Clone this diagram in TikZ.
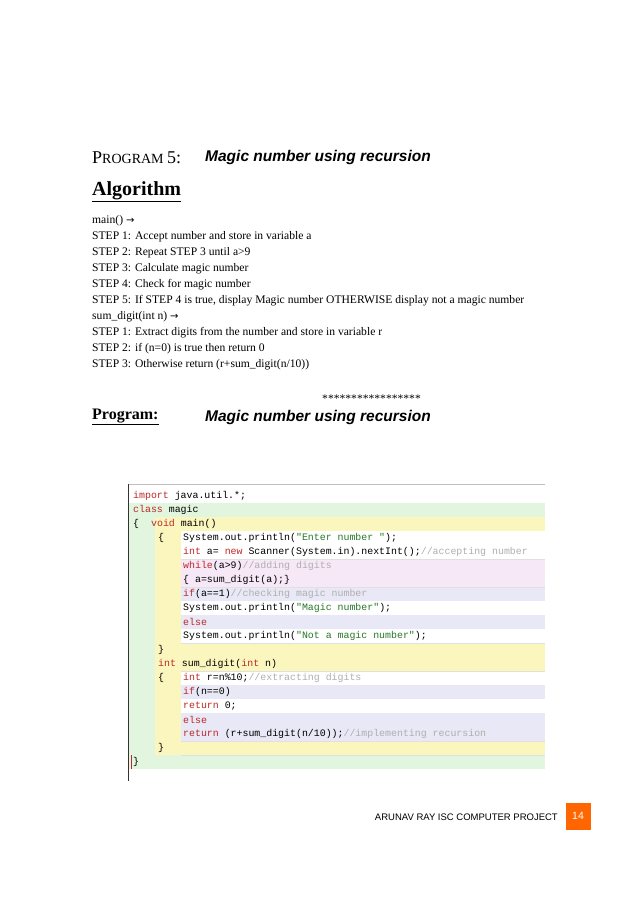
\documentclass[tikz,border=0pt]{standalone}
\usepackage{fontspec}
\setmainfont{Liberation Serif}
\newfontfamily\codefont{Liberation Mono}
\newfontfamily\headfont{Liberation Sans}
\newfontfamily\symfont{DejaVu Sans}
\begin{document}
\begin{tikzpicture}[x=1pt,y=-1pt,
  alg/.style={anchor=west,inner sep=0pt,font=\fontsize{11.6}{13}\selectfont},
  code/.style={anchor=west,inner sep=0pt,font=\codefont\fontsize{9.9}{11}\selectfont},
  head/.style={anchor=west,inner sep=0pt}]
\useasboundingbox (0,0) rectangle (638,902);
\fill[white] (0,0) rectangle (638,902);
\definecolor{kw}{RGB}{190,40,40}\definecolor{str}{RGB}{40,120,40}\definecolor{cm}{RGB}{175,175,175}
\definecolor{gbg}{RGB}{226,245,222}\definecolor{ybg}{RGB}{250,246,190}\definecolor{pbg}{RGB}{246,232,246}\definecolor{lbg}{RGB}{232,232,246}
% headings
\node[head] (h1) at (92,158) {\fontsize{18}{20}\selectfont P\fontsize{14}{16}\selectfont ROGRAM \fontsize{18}{20}\selectfont 5:};
\node[head] (h1b) at (205,157) {\headfont\itshape\bfseries\fontsize{15.5}{18}\selectfont Magic number using recursion};
\node[head] (h2) at (92,192) {\bfseries\fontsize{20}{22}\selectfont\underline{Algorithm}};
\foreach \t [count=\i] in {main() {\symfont\fontsize{10}{10}\selectfont →},
 STEP 1: Accept number and store in variable a,
 STEP 2: Repeat STEP 3 until a>9,
 STEP 3: Calculate magic number,
 STEP 4: Check for magic number,
 {STEP 5: If STEP 4 is true, display Magic number OTHERWISE display not a magic number},
 sum\_digit(int n) {\symfont\fontsize{10}{10}\selectfont →},
 STEP 1: Extract digits from the number and store in variable r,
 STEP 2: if (n=0) is true then return 0,
 STEP 3: Otherwise return (r+sum\_digit(n/10))}
 \node[alg] (a\i) at (92,205+16*\i) {\t};
\node[alg] (stars) at (322,399) {*****************};
\node[head] (h3) at (92,417) {\bfseries\fontsize{16}{18}\selectfont\underline{Program:}};
\node[head] (h3b) at (205,417) {\headfont\itshape\bfseries\fontsize{15.5}{18}\selectfont Magic number using recursion};
% code backgrounds
\fill[gbg] (128,503) rectangle (545,769);
\fill[ybg] (155,517) rectangle (545,755);
\fill[white] (181,531) rectangle (545,559);
\fill[pbg] (181,559) rectangle (545,587);
\fill[lbg] (181,587) rectangle (545,601);
\fill[white] (181,601) rectangle (545,615);
\fill[lbg] (181,615) rectangle (545,629);
\fill[white] (181,629) rectangle (545,643);
\fill[white] (181,671) rectangle (545,685);
\fill[lbg] (181,685) rectangle (545,699);
\fill[white] (181,699) rectangle (545,713);
\fill[lbg] (181,713) rectangle (545,741);
\draw[gray!50] (128,484) -- (545,484);
\draw[black!80,line width=0.8pt] (128,484) -- (128,781);
\foreach \yy in {559,587,643,671,741,755}
  \draw[white!88!black,line width=0.3pt] (181,\yy) -- (545,\yy);
% code
\node[code] (c1) at (133,496) {\textcolor{kw}{import} java.util.*;};
\node[code] (c2) at (133,510) {\textcolor{kw}{class} magic};
\node[code] (c3) at (133,524) {\{\hspace{12pt}\textcolor{kw}{void} main()};
\node[code] (c4) at (158,538) {\{};
\node[code] (c4b) at (183,538) {System.out.println(\textcolor{str}{"Enter number "});};
\node[code] (c5) at (183,552) {\textcolor{kw}{int} a= \textcolor{kw}{new} Scanner(System.in).nextInt();\textcolor{cm}{//accepting number}};
\node[code] (c6) at (183,566) {\textcolor{kw}{while}(a>9)\textcolor{cm}{//adding digits}};
\node[code] (c7) at (183,580) {\{ a=sum\_digit(a);\}};
\node[code] (c8) at (183,594) {\textcolor{kw}{if}(a==1)\textcolor{cm}{//checking magic number}};
\node[code] (c9) at (183,608) {System.out.println(\textcolor{str}{"Magic number"});};
\node[code] (c10) at (183,622) {\textcolor{kw}{else}};
\node[code] (c11) at (183,636) {System.out.println(\textcolor{str}{"Not a magic number"});};
\node[code] (c12) at (158,650) {\}};
\node[code] (c13) at (158,664) {\textcolor{kw}{int} sum\_digit(\textcolor{kw}{int} n)};
\node[code] (c14) at (158,678) {\{};
\node[code] (c14b) at (183,678) {\textcolor{kw}{int} r=n\%10;\textcolor{cm}{//extracting digits}};
\node[code] (c15) at (183,692) {\textcolor{kw}{if}(n==0)};
\node[code] (c16) at (183,706) {\textcolor{kw}{return} 0;};
\node[code] (c17) at (183,720) {\textcolor{kw}{else}};
\node[code] (c18) at (183,734) {\textcolor{kw}{return} (r+sum\_digit(n/10));\textcolor{cm}{//implementing recursion}};
\node[code] (c19) at (158,748) {\}};
\node[code] (c20) at (133,762) {\}};
\draw[kw,line width=0.6pt] (131,755) -- (131,769);
% footer
\node[anchor=east,inner sep=0pt,font=\headfont\fontsize{9.5}{11}\selectfont] (ft) at (558,817) {ARUNAV RAY ISC COMPUTER PROJECT};
\node[fill=orange!80!red,minimum width=25pt,minimum height=27pt,inner sep=0pt,text=white,font=\headfont\fontsize{10.5}{12}\selectfont] (pg) at (578,816) {14};
\end{tikzpicture}
\end{document}
